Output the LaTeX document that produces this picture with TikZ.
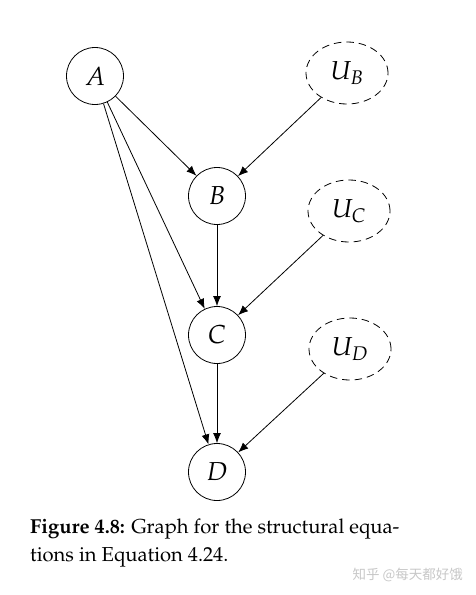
\documentclass[tikz,border=0pt]{standalone}
\usepackage{fontspec}
\usepackage[T1]{fontenc}
\usepackage{mathpazo}
\newfontfamily\cjk{Noto Sans CJK SC}
\usetikzlibrary{arrows.meta,shapes.geometric}
\tikzset{
  var/.style={circle,draw,line width=0.8pt,minimum size=57pt,inner sep=0pt,font=\fontsize{26}{30}\selectfont},
  noise/.style={ellipse,draw,dashed,dash pattern=on 7.5pt off 5pt,line width=0.8pt,minimum width=82pt,minimum height=62pt,inner sep=0pt,font=\fontsize{26}{30}\selectfont},
  arr/.style={-{Latex[length=10pt,width=8pt]},line width=0.8pt},
  captext/.style={anchor=base west,inner sep=0pt,font=\fontsize{20.2}{24}\selectfont},
}
\begin{document}
\begin{tikzpicture}[x=1pt,y=-1pt]
\useasboundingbox (0,0) rectangle (475,595);
\node[var] (A) at (95,76) {$A$};
\node[var] (B) at (217,196) {$B$};
\node[var] (C) at (217,335) {$C$};
\node[var] (D) at (217,472) {$D$};
\node[noise] (UB) at (347,73) {$U_B$};
\node[noise] (UC) at (349,211) {$U_C$};
\node[noise] (UD) at (350,349) {$U_D$};
\draw[arr] (A) -- (B);
\draw[arr] (A) -- (C);
\draw[arr] (A) -- (D);
\draw[arr] (B) -- (C);
\draw[arr] (C) -- (D);
\draw[arr] (UB) -- (B);
\draw[arr] (UC) -- (C);
\draw[arr] (UD) -- (D);
\node[captext] (cap1) at (30,533) {\textbf{Figure 4.8:} Graph for the structural equa-};
\node[captext] (cap2) at (30,561) {tions in Equation 4.24.};
\node[anchor=east,inner sep=0pt,text=black!22,font=\cjk\fontsize{13.5}{15}\selectfont] (wm) at (463,575) {知乎 @每天都好饿};
\end{tikzpicture}
\end{document}
